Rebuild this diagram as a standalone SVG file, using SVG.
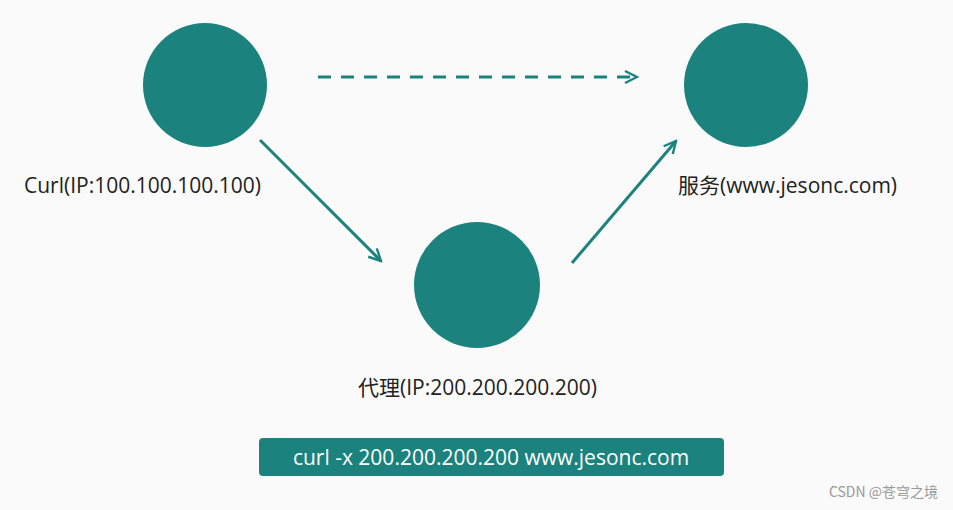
<svg xmlns="http://www.w3.org/2000/svg" width="953" height="510" viewBox="0 0 953 510">
<style>
.n{fill:#1b827e}
.t{font-family:"Open Sans","Noto Sans CJK SC",sans-serif;font-size:21px;fill:#222}
.c{stroke:#1b827e;stroke-width:3;fill:none}
</style>
<defs>
<marker id="a" viewBox="0 0 10 10" refX="9" refY="5" markerWidth="5" markerHeight="5" orient="auto" markerUnits="strokeWidth"><path d="M1,1 L9,5 L1,9" fill="none" stroke="#1b827e" stroke-width="1.6"/></marker>
</defs>
<rect width="953" height="510" fill="#fafafa"/>
<g id="curl"><circle class="n" cx="205" cy="85" r="62"/><text class="t" x="24" y="193">Curl(IP:100.100.100.100)</text></g>
<g id="server"><circle class="n" cx="746" cy="85" r="62"/><text class="t" x="678" y="193">服务(www.jesonc.com)</text></g>
<g id="proxy"><circle class="n" cx="477" cy="285" r="63"/><text class="t" x="358" y="395">代理(IP:200.200.200.200)</text></g>
<g id="connectors">
<line class="c" x1="318" y1="77" x2="637" y2="77" stroke-dasharray="13,10" marker-end="url(#a)"/>
<line class="c" x1="260" y1="140" x2="381" y2="261" marker-end="url(#a)"/>
<line class="c" x1="572" y1="263" x2="676" y2="141" marker-end="url(#a)"/>
</g>
<g id="cmd"><rect x="259" y="438" width="465" height="38" rx="4" fill="#1b827e"/><text x="491" y="465" text-anchor="middle" style="font-family:'Open Sans',sans-serif;font-size:21px;fill:#fff">curl -x 200.200.200.200 www.jesonc.com</text></g>
<text x="938" y="497" text-anchor="end" style="font-family:'Noto Sans CJK SC',sans-serif;font-size:14px;fill:#999">CSDN @苍穹之境</text>
</svg>
